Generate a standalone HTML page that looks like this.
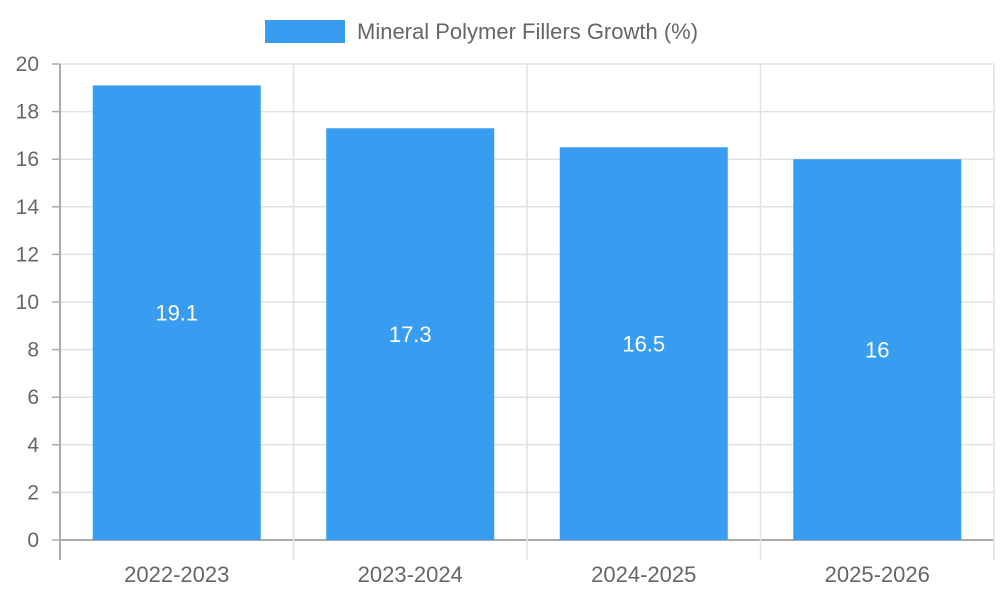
<!DOCTYPE html>
<html><head><meta charset="utf-8"><style>
body{margin:0;background:#fff;width:1000px;height:600px;overflow:hidden}
svg{font-family:"Liberation Sans",sans-serif}
</style></head><body>
<svg id="chart" width="1000" height="600"></svg>
<script>
const categories=["2022-2023","2023-2024","2024-2025","2025-2026"];
const values=[19.1,17.3,16.5,16];
const yTicks=[0,2,4,6,8,10,12,14,16,18,20];
const seriesName="Mineral Polymer Fillers Growth (%)";
const NS="http://www.w3.org/2000/svg";
const svg=document.getElementById('chart');
const L=60,R=994,T=64,B=540,yMax=20;
const y=v=>B-(v/yMax)*(B-T);
const bw=(R-L)/categories.length;
const x=i=>L+i*bw;
function mk(tag,attrs,parent){const e=document.createElementNS(NS,tag);for(const k in attrs)e.setAttribute(k,attrs[k]);(parent||svg).appendChild(e);return e;}
// legend
const lg=mk('g',{});


mk('rect',{x:265,y:20,width:80,height:23,fill:'#389cf0'},lg);
const lt=mk('text',{x:357,y:39,'font-size':22,fill:'#666'},lg);lt.textContent=seriesName;
// grid
yTicks.forEach(t=>{
  const g=mk('g',{});
  
  
  mk('line',{x1:L,x2:R,y1:y(t),y2:y(t),stroke:t===0?'#aaa':'#e2e2e2','stroke-width':t===0?2:1.5},g);
  mk('line',{x1:52,x2:L,y1:y(t),y2:y(t),stroke:'#aaa','stroke-width':1.5},g);
  const tx=mk('text',{x:39,y:y(t)+7,'font-size':21,fill:'#666','text-anchor':'end'},g);tx.textContent=t;
});
for(let i=0;i<=categories.length;i++){
  const l=mk('line',{x1:x(i),x2:x(i),y1:T,y2:560,stroke:i===0?'#aaa':'#e2e2e2','stroke-width':i===0?2:1.5});
  
  
}
categories.forEach((c,i)=>{
  const cx=x(i)+bw/2;
  const r=mk('rect',{x:cx-84,y:y(values[i]),width:168,height:B-y(values[i]),fill:'#389cf0'});
  
  
  const v=mk('text',{x:cx,y:(y(values[i])+B)/2+8,'font-size':22,fill:'#fff','text-anchor':'middle'});
  
  
  v.textContent=values[i];
  const xl=mk('text',{x:cx,y:582,'font-size':22,fill:'#666','text-anchor':'middle'});
  
  
  xl.textContent=c;
});
</script>
</body></html>
